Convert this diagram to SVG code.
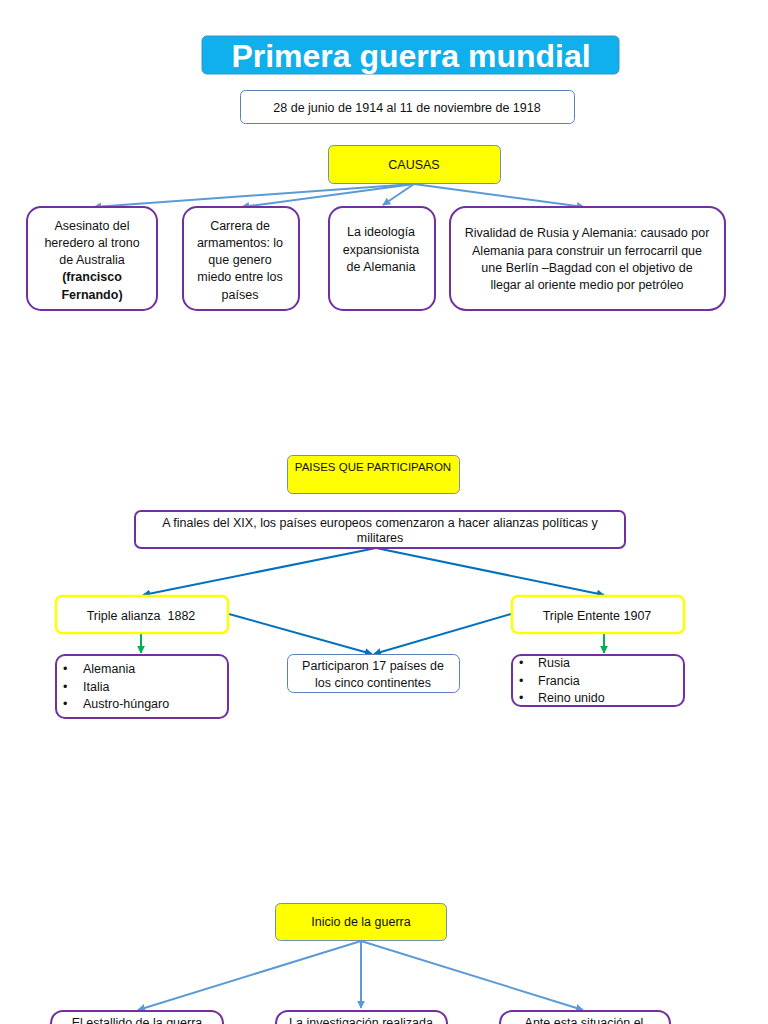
<svg xmlns="http://www.w3.org/2000/svg" width="768" height="1024" viewBox="0 0 768 1024">
<defs>
<style>
text{font-family:"Liberation Sans",Arial,sans-serif;font-size:12.5px;fill:#111;}
.c{text-anchor:middle;}
.b{font-weight:bold;}
.title{font-size:32px;font-weight:bold;fill:#fff;text-anchor:middle;}
.purple{fill:#fff;stroke:#7030a0;stroke-width:2;}
.yel{fill:#ffff00;stroke:#6d8fbf;stroke-width:1;}
.yelo{fill:#fff;stroke:#ffff00;stroke-width:2.5;}
.gray{fill:#fff;stroke:#5b80b8;stroke-width:1;}
.lb{stroke:#5b9bd5;stroke-width:2;fill:none;marker-end:url(#alb);}
.db{stroke:#0070c0;stroke-width:2;fill:none;marker-end:url(#adb);}
.gr{stroke:#00b050;stroke-width:2;fill:none;marker-end:url(#agr);}
</style>
<marker id="alb" viewBox="0 0 10 10" refX="9" refY="5" markerWidth="4" markerHeight="4" orient="auto"><path d="M0,0L10,5L0,10z" fill="#5b9bd5"/></marker>
<marker id="adb" viewBox="0 0 10 10" refX="9" refY="5" markerWidth="4" markerHeight="4" orient="auto"><path d="M0,0L10,5L0,10z" fill="#0070c0"/></marker>
<marker id="agr" viewBox="0 0 10 10" refX="9" refY="5" markerWidth="4" markerHeight="4" orient="auto"><path d="M0,0L10,5L0,10z" fill="#00b050"/></marker>
</defs>
<rect width="768" height="1024" fill="#fff"/>

<g id="connectors">
<line class="lb" x1="414" y1="184" x2="94" y2="207"/>
<line class="lb" x1="414" y1="184" x2="242" y2="207"/>
<line class="lb" x1="414" y1="184" x2="383" y2="205"/>
<line class="lb" x1="414" y1="184" x2="584" y2="207"/>
<line class="db" x1="376" y1="548" x2="143" y2="595"/>
<line class="db" x1="376" y1="548" x2="604" y2="595"/>
<line class="db" x1="229" y1="614" x2="372" y2="654"/>
<line class="db" x1="511" y1="614" x2="374" y2="654"/>
<line class="gr" x1="141" y1="634" x2="141" y2="653"/>
<line class="gr" x1="604" y1="634" x2="604" y2="653"/>
<line class="lb" x1="361" y1="941" x2="138" y2="1010"/>
<line class="lb" x1="361" y1="941" x2="361" y2="1008"/>
<line class="lb" x1="361" y1="941" x2="583" y2="1010"/>
</g>

<g id="title">
<rect x="202" y="36" width="417" height="38" rx="5" fill="#0fb0ec" stroke="#3a8fd0" stroke-width="1"/>
<text class="title" x="411" y="67">Primera guerra mundial</text>
</g>

<g id="fecha">
<rect class="gray" x="240.5" y="90.5" width="334" height="33" rx="5"/>
<text class="c" x="407" y="111.5">28 de junio de 1914 al 11 de noviembre de 1918</text>
</g>

<g id="causas">
<rect class="yel" x="328.5" y="145.5" width="172" height="38" rx="5"/>
<text class="c" x="414" y="169">CAUSAS</text>
</g>

<g id="causa1">
<rect class="purple" x="27" y="207" width="130" height="103" rx="14"/>
<text class="c" x="92" y="229.5">Asesinato del</text>
<text class="c" x="92" y="246.5">heredero al trono</text>
<text class="c" x="92" y="264">de Australia</text>
<text class="c b" x="92" y="281">(francisco</text>
<text class="c b" x="92" y="298.5">Fernando)</text>
</g>

<g id="causa2">
<rect class="purple" x="183" y="207" width="116" height="103" rx="14"/>
<text class="c" x="240" y="229.5">Carrera de</text>
<text class="c" x="240" y="246.5">armamentos: lo</text>
<text class="c" x="240" y="264">que genero</text>
<text class="c" x="240" y="281">miedo entre los</text>
<text class="c" x="240" y="298.5">países</text>
</g>

<g id="causa3">
<rect class="purple" x="329" y="207" width="106" height="103" rx="14"/>
<text class="c" x="381" y="236">La ideología</text>
<text class="c" x="381" y="253.5">expansionista</text>
<text class="c" x="381" y="271">de Alemania</text>
</g>

<g id="causa4">
<rect class="purple" x="450" y="207" width="275" height="103" rx="16"/>
<text class="c" x="587" y="237">Rivalidad de Rusia y Alemania: causado por</text>
<text class="c" x="587" y="254.5">Alemania para construir un ferrocarril que</text>
<text class="c" x="587" y="272">une Berlín –Bagdad con el objetivo de</text>
<text class="c" x="587" y="289">llegar al oriente medio por petróleo</text>
</g>

<g id="paises">
<rect class="yel" x="287.5" y="455.5" width="172" height="38" rx="5"/>
<text class="c" x="373" y="470.5" style="font-size:11.5px">PAISES QUE PARTICIPARON</text>
</g>

<g id="finales">
<rect class="purple" x="135" y="511" width="490" height="37" rx="6"/>
<text class="c" x="380" y="527">A finales del XIX, los países europeos comenzaron a hacer alianzas políticas y</text>
<text class="c" x="380" y="542">militares</text>
</g>

<g id="alianza">
<rect class="yelo" x="56" y="596" width="172" height="37" rx="6"/>
<text class="c" x="141" y="620" xml:space="preserve">Triple alianza  1882</text>
</g>

<g id="entente">
<rect class="yelo" x="512" y="596" width="172" height="37" rx="6"/>
<text class="c" x="597" y="620">Triple Entente 1907</text>
</g>

<g id="participaron">
<rect class="gray" x="287.5" y="654.5" width="172" height="38" rx="6"/>
<text class="c" x="373" y="670">Participaron 17 países de</text>
<text class="c" x="373" y="687">los cinco continentes</text>
</g>

<g id="lista1">
<rect class="purple" x="56" y="655" width="172" height="63" rx="9"/>
<text x="63" y="673">•</text><text x="83" y="673">Alemania</text>
<text x="63" y="690.5">•</text><text x="83" y="690.5">Italia</text>
<text x="63" y="708">•</text><text x="83" y="708">Austro-húngaro</text>
</g>

<g id="lista2">
<rect class="purple" x="512" y="655" width="172" height="51" rx="9"/>
<text x="519" y="667">•</text><text x="538" y="667">Rusia</text>
<text x="519" y="685">•</text><text x="538" y="685">Francia</text>
<text x="519" y="702">•</text><text x="538" y="702">Reino unido</text>
</g>

<g id="inicio">
<rect class="yel" x="275.5" y="903.5" width="171" height="37" rx="5"/>
<text class="c" x="361" y="926">Inicio de la guerra</text>
</g>

<g id="inicio1">
<rect class="purple" x="51" y="1011" width="172" height="60" rx="12"/>
<text class="c" x="137" y="1027">El estallido de la guerra</text>
</g>
<g id="inicio2">
<rect class="purple" x="276" y="1011" width="171" height="60" rx="12"/>
<text class="c" x="361" y="1027">La investigación realizada</text>
</g>
<g id="inicio3">
<rect class="purple" x="500" y="1011" width="170" height="60" rx="12"/>
<text class="c" x="584" y="1027">Ante esta situación el</text>
</g>
</svg>
